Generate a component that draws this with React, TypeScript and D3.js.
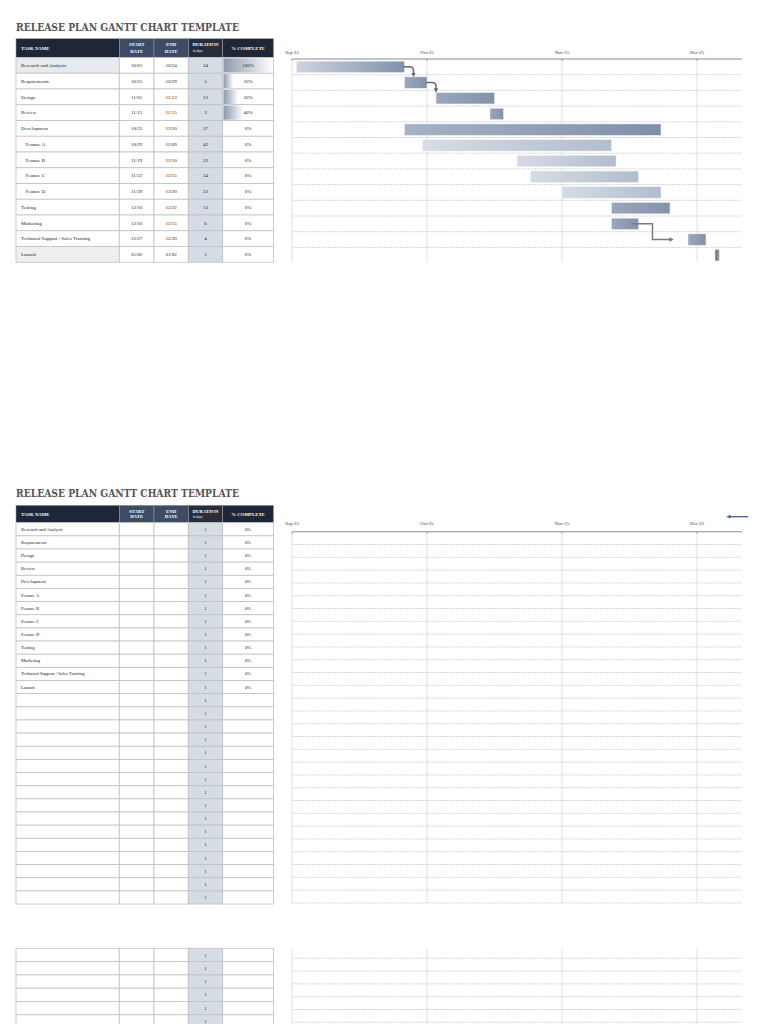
import React from "react";
import * as d3 from "d3";

const title = "RELEASE PLAN GANTT CHART TEMPLATE";
const taskNames = [
  "Research and Analysis", "Requirements", "Design", "Review", "Development",
  "Feature A", "Feature B", "Feature C", "Feature D", "Testing", "Marketing",
  "Technical Support / Sales Training", "Launch",
];
const taskLevels = [0, 0, 0, 0, 0, 1, 1, 1, 1, 0, 0, 0, 0];
const taskTypes = ["research", "step", "step", "step", "development", "feature", "feature", "feature", "feature", "step", "step", "step", "launch"];
const startDates = ["10/01", "10/25", "11/01", "11/15", "10/25", "10/29", "11/19", "11/22", "11/29", "12/10", "12/10", "12/27", "01/02"];
const endDates = ["10/24", "10/29", "11/13", "11/15", "12/20", "12/09", "12/10", "12/15", "12/20", "12/22", "12/15", "12/30", "01/02"];
const durations = [24, 5, 13, 3, 57, 42, 22, 24, 22, 13, 6, 4, 1];
const percentComplete = [100, 20, 30, 40, 0, 0, 0, 0, 0, 0, 0, 0, 0];
const dependencies = [
  ["Research and Analysis", "Requirements"],
  ["Requirements", "Design"],
  ["Marketing", "Technical Support / Sales Training"],
];
const axisTickDates = ["2025-09-30", "2025-10-30", "2025-11-29", "2025-12-29"];
const axisDomain = ["2025-09-30", "2026-01-08"];
const templateDuration = 1;
const templatePercent = 0;
const templateRowCount = 29;
const overflowRowCount = 6;

const COLS = [16, 119.3, 154, 188.3, 222.7, 273.5];
const HEADER_FILLS = ["#1f2637", "#3d4b64", "#3d4b64", "#262e3e", "#1f2637"];
const SERIF = "'Liberation Serif', 'Times New Roman', serif";
const GRID = "#bcbcbc";
const BORDER = "#c0c0c0";

const parseMD = (s: string) => {
  const [m, d] = s.split("/").map(Number);
  const y = m < 6 ? 2026 : 2025;
  return new Date(Date.UTC(y, m - 1, d));
};
const parseISO = (s: string) => new Date(s + "T00:00:00Z");
const fmtTick = d3.utcFormat("%b-%y");

const x = d3.scaleUtc().domain(axisDomain.map(parseISO)).range([292, 742]);

const barGrad: Record<string, [string, string]> = {
  research: ["#cdd4df", "#8192ac"],
  step: ["#9aa7bc", "#8392ac"],
  development: ["#a6b2c5", "#7f8fa9"],
  feature: ["#d6dce5", "#b1bccd"],
  launch: ["#6a6a6a", "#a2a2a2"],
};

type Row = { name: string; level: number; start: string; end: string; dur: string; pct: number | null; nameFill: string };

function TableBlock({ top, headerH, rowH, rows, fs }: { top: number; headerH: number; rowH: number; rows: Row[]; fs: number }) {
  const bodyTop = top + headerH;
  const els: React.ReactNode[] = [];
  if (headerH > 0) {
    for (let c = 0; c < 5; c++) {
      els.push(<rect key={"h" + c} x={COLS[c]} y={top} width={COLS[c + 1] - COLS[c]} height={headerH} fill={HEADER_FILLS[c]} stroke="#9a9a9a" strokeWidth={0.6} />);
    }
    const cx = (c: number) => (COLS[c] + COLS[c + 1]) / 2;
    const l1 = top + headerH * 0.33 + 1.5;
    const l2 = top + headerH * 0.66 + 1.5;
    const mid = top + headerH / 2 + 1.7;
    const st = { fill: "#fff", fontFamily: SERIF, fontWeight: 700, fontSize: 4.8 } as const;
    els.push(<text key="t0" x={COLS[0] + 5} y={mid} {...st}>TASK NAME</text>);
    els.push(<text key="t1a" x={cx(1)} y={l1} textAnchor="middle" {...st}>START</text>);
    els.push(<text key="t1b" x={cx(1)} y={l2} textAnchor="middle" {...st}>DATE</text>);
    els.push(<text key="t2a" x={cx(2)} y={l1} textAnchor="middle" {...st}>END</text>);
    els.push(<text key="t2b" x={cx(2)} y={l2} textAnchor="middle" {...st}>DATE</text>);
    els.push(<text key="t3a" x={cx(3)} y={l1} textAnchor="middle" {...st}>DURATION</text>);
    els.push(<text key="t3b" x={COLS[3] + 4.5} y={l2 - 0.5} fill="#fff" fontFamily={SERIF} fontStyle="italic" fontSize={3.4}>in days</text>);
    els.push(<text key="t4" x={cx(4)} y={mid} textAnchor="middle" {...st}>% COMPLETE</text>);
  }
  rows.forEach((r, i) => {
    const y = bodyTop + i * rowH;
    const ty = y + rowH / 2 + fs * 0.34;
    const fills = [r.nameFill, "#ffffff", "#ffffff", "#d6dce5", "#ffffff"];
    for (let c = 0; c < 5; c++) {
      els.push(<rect key={`c${i}-${c}`} x={COLS[c]} y={y} width={COLS[c + 1] - COLS[c]} height={rowH} fill={fills[c]} stroke={BORDER} strokeWidth={0.8} />);
    }
    if (r.pct !== null && r.pct > 0) {
      const w = ((COLS[5] - COLS[4]) - 1.5) * (r.pct / 100);
      els.push(<rect key={`p${i}`} x={COLS[4] + 0.8} y={y + 0.8} width={w} height={rowH - 1.6} fill="url(#pctGrad)" />);
    }
    const cst = { fontFamily: SERIF, fontSize: fs, fill: "#1a1a1a" } as const;
    const cxx = (c: number) => (COLS[c] + COLS[c + 1]) / 2;
    if (r.name) els.push(<text key={`n${i}`} x={COLS[0] + 5 + r.level * 4.5} y={ty} {...cst}>{r.name}</text>);
    if (r.start) els.push(<text key={`s${i}`} x={cxx(1)} y={ty} textAnchor="middle" {...cst}>{r.start}</text>);
    if (r.end) els.push(<text key={`e${i}`} x={cxx(2)} y={ty} textAnchor="middle" {...cst}>{r.end}</text>);
    if (r.dur) els.push(<text key={`d${i}`} x={cxx(3)} y={ty} textAnchor="middle" {...cst}>{r.dur}</text>);
    if (r.pct !== null) els.push(<text key={`q${i}`} x={cxx(4)} y={ty} textAnchor="middle" {...cst}>{r.pct + "%"}</text>);
  });
  return <g>{els}</g>;
}

function GanttGrid({ top, rowH, nRows, gridTop, gridBottom, axis, labelY }: { top: number; rowH: number; nRows: number; gridTop: number; gridBottom: number; axis: boolean; labelY?: number }) {
  const ticks = axisTickDates.map(parseISO);
  const [x0, x1] = x.range();
  return (
    <g>
      {ticks.map((t, i) => (
        <line key={"v" + i} x1={x(t)} x2={x(t)} y1={gridTop} y2={gridBottom} stroke="#dedede" strokeWidth={0.9} />
      ))}
      {d3.range(1, nRows + 1).map((k) => (
        <line key={"h" + k} x1={x0} x2={x1} y1={top + k * rowH} y2={top + k * rowH} stroke={GRID} strokeWidth={0.8} strokeDasharray="1,0.8" />
      ))}
      {axis && (
        <g>
          <line x1={x0} x2={x1} y1={top} y2={top} stroke="#8a8a8a" strokeWidth={1.1} />
          {ticks.map((t, i) => (
            <g key={"t" + i}>
              <line x1={x(t)} x2={x(t)} y1={top} y2={top + 2} stroke="#8a8a8a" strokeWidth={0.8} />
              <text x={x(t)} y={labelY} textAnchor="middle" fontFamily={SERIF} fontSize={4.8} fill="#333">{fmtTick(t)}</text>
            </g>
          ))}
        </g>
      )}
    </g>
  );
}

export default function App() {
  const g1Top = 59;
  const g1RowH = 15.7;
  const barH = 11.4;

  const bars = taskNames.map((name, i) => {
    const end = parseMD(endDates[i]);
    const s = d3.utcDay.offset(end, -durations[i] + 1);
    const e = d3.utcDay.offset(end, 1);
    const y = g1Top + i * g1RowH + (g1RowH - barH) / 2;
    return { name, i, x0: x(s), x1: x(e), y, cy: y + barH / 2, type: taskTypes[i] };
  });
  const byName = new Map(bars.map((b) => [b.name, b]));

  const depPaths = dependencies.map(([a, b], k) => {
    const s = byName.get(a)!;
    const t = byName.get(b)!;
    if (t.x0 < s.x1 + 20) {
      const sx = s.x1;
      const p = d3.path();
      p.moveTo(sx - 1, s.cy);
      p.lineTo(sx + 5, s.cy);
      p.quadraticCurveTo(sx + 9, s.cy, sx + 9, s.cy + 4);
      p.lineTo(sx + 9, t.y - 1.5);
      return { d: p.toString(), color: "#676767", marker: "url(#arrDark)", key: k };
    }
    const p = d3.path();
    p.moveTo(s.x1 - 7, s.cy);
    p.lineTo(s.x1 + 14, s.cy);
    p.lineTo(s.x1 + 14, t.cy);
    p.lineTo(t.x0 - 16, t.cy);
    return { d: p.toString(), color: "#7a7a7a", marker: "url(#arrGray)", key: k };
  });

  const rows1: Row[] = taskNames.map((n, i) => ({
    name: n, level: taskLevels[i], start: startDates[i], end: endDates[i], dur: String(durations[i]), pct: percentComplete[i],
    nameFill: i === 0 ? "#e7eaef" : i === taskNames.length - 1 ? "#efefef" : "#ffffff",
  }));
  const rows2: Row[] = d3.range(templateRowCount).map((i) => ({
    name: i < taskNames.length ? taskNames[i] : "", level: 0, start: "", end: "", dur: String(templateDuration),
    pct: i < taskNames.length ? templatePercent : null, nameFill: "#ffffff",
  }));
  const rows3: Row[] = d3.range(overflowRowCount).map(() => ({
    name: "", level: 0, start: "", end: "", dur: String(templateDuration), pct: null, nameFill: "#ffffff",
  }));

  const titleProps = {
    x: 16, fontFamily: "'DejaVu Serif', serif", fontWeight: 700, fontSize: 11, fill: "#555555",
    textLength: 223, lengthAdjust: "spacingAndGlyphs",
  } as const;

  return (
    <svg width={768} height={1024} style={{ position: "absolute", left: 0, top: 0, background: "#fff" }}>
      <defs>
        <linearGradient id="pctGrad" x1="0" x2="1" y1="0" y2="0">
          <stop offset="0" stopColor="#8c99b0" />
          <stop offset="1" stopColor="#ffffff" />
        </linearGradient>
        {Object.entries(barGrad).map(([k, [a, b]]) => (
          <linearGradient key={k} id={"bg-" + k} x1="0" x2="1" y1="0" y2="0">
            <stop offset="0" stopColor={a} />
            <stop offset="1" stopColor={b} />
          </linearGradient>
        ))}
        <marker id="arrDark" viewBox="0 0 10 10" refX="6" refY="5" markerWidth="3" markerHeight="3" orient="auto">
          <path d="M0,0 L10,5 L0,10 z" fill="#676767" />
        </marker>
        <marker id="arrGray" viewBox="0 0 10 10" refX="6" refY="5" markerWidth="3" markerHeight="3" orient="auto">
          <path d="M0,0 L10,5 L0,10 z" fill="#7a7a7a" />
        </marker>
        <marker id="arrBlue" viewBox="0 0 10 10" refX="6" refY="5" markerWidth="3" markerHeight="3" orient="auto">
          <path d="M0,0 L10,5 L0,10 z" fill="#4c6b9c" />
        </marker>
      </defs>

      {/* Section 1 */}
      <text y={30.8} {...titleProps}>{title}</text>
      <TableBlock top={38.7} headerH={18.8} rowH={15.75} rows={rows1} fs={5} />
      <GanttGrid top={g1Top} rowH={g1RowH} nRows={12} gridTop={g1Top} gridBottom={262} axis labelY={54.3} />
      {bars.map((b) => (
        <rect key={b.name} x={b.x0} y={b.y} width={b.x1 - b.x0} height={barH} fill={`url(#bg-${b.type})`} stroke="#eef1f5" strokeWidth={0.5} />
      ))}
      {depPaths.map((p) => (
        <path key={p.key} d={p.d} fill="none" stroke={p.color} strokeWidth={1.5} markerEnd={p.marker} />
      ))}

      {/* Section 2 */}
      <text y={496.8} {...titleProps}>{title}</text>
      <TableBlock top={505.3} headerH={17.4} rowH={13.15} rows={rows2} fs={4.6} />
      <GanttGrid top={531.7} rowH={12.8} nRows={templateRowCount} gridTop={531.7} gridBottom={903} axis labelY={525} />
      <line x1={748} x2={728} y1={516.7} y2={516.7} stroke="#4c6b9c" strokeWidth={1.4} markerEnd="url(#arrBlue)" />

      {/* Section 3 */}
      <TableBlock top={948.3} headerH={0} rowH={13.3} rows={rows3} fs={4.6} />
      <GanttGrid top={945.5} rowH={12.8} nRows={6} gridTop={948.3} gridBottom={1024} axis={false} />
    </svg>
  );
}
